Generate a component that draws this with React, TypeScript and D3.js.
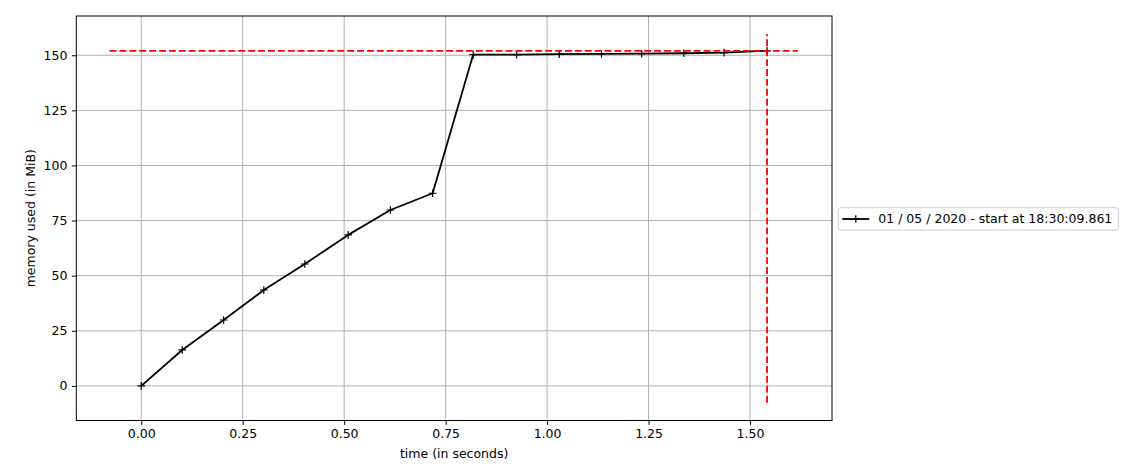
import { useEffect, useRef } from 'react';
import * as d3 from 'd3';

// memory samples (mprof-style)
const times = [0, 0.101, 0.203, 0.302, 0.403, 0.510, 0.614, 0.718, 0.818, 0.925, 1.030, 1.134, 1.233, 1.337, 1.436, 1.542];
const memory = [0, 16.3, 29.9, 43.5, 55.3, 68.5, 79.8, 87.4, 150.3, 150.3, 150.5, 150.6, 150.7, 150.9, 151.2, 152.0];
const xTicks = [0, 0.25, 0.5, 0.75, 1.0, 1.25, 1.5];
const yTicks = [0, 25, 50, 75, 100, 125, 150];
const maxMem = 152.0;
const maxTime = 1.542;
const hlineRange = [-0.078, 1.618];
const vlineRange = [-7.6, 159.5];
const legendLabel = '01 / 05 / 2020 - start at 18:30:09.861';

export default function App() {
  const svgRef = useRef<SVGSVGElement>(null);

  useEffect(() => {
    if (!svgRef.current) return;
    const svg = d3.select(svgRef.current);
    svg.selectAll('*').remove();

    const width = 1129;
    const height = 471;
    const margin = { top: 16, right: 297, bottom: 50.5, left: 76.3 };
    const w = width - margin.left - margin.right;
    const h = height - margin.top - margin.bottom;
    const font = 'DejaVu Sans, sans-serif';

    svg.append('rect').attr('width', width).attr('height', height).attr('fill', 'white');

    const x = d3.scaleLinear().domain([-0.160, 1.702]).range([0, w]);
    const y = d3.scaleLinear().domain([-15.7, 167.8]).range([h, 0]);

    const g = svg.append('g').attr('transform', `translate(${margin.left},${margin.top})`);

    // Grid
    g.append('g').selectAll('line').data(xTicks).enter().append('line')
      .attr('x1', d => x(d)).attr('x2', d => x(d))
      .attr('y1', 0).attr('y2', h)
      .attr('stroke', '#b0b0b0').attr('stroke-width', 1);
    g.append('g').selectAll('line').data(yTicks).enter().append('line')
      .attr('y1', d => y(d)).attr('y2', d => y(d))
      .attr('x1', 0).attr('x2', w)
      .attr('stroke', '#b0b0b0').attr('stroke-width', 1);

    // Line
    const pts: [number, number][] = times.map((t, i) => [t, memory[i]]);
    const line = d3.line<[number, number]>().x(d => x(d[0])).y(d => y(d[1]));
    g.append('path').datum(pts)
      .attr('d', line)
      .attr('fill', 'none').attr('stroke', 'black').attr('stroke-width', 1.8)
      .attr('stroke-linejoin', 'round');

    // '+' markers
    const ms = 3.8;
    g.append('g').selectAll('path').data(pts).enter().append('path')
      .attr('d', d => `M${x(d[0]) - ms},${y(d[1])}H${x(d[0]) + ms}M${x(d[0])},${y(d[1]) - ms}V${y(d[1]) + ms}`)
      .attr('stroke', 'black').attr('stroke-width', 1.2).attr('fill', 'none');

    // max lines
    g.append('line')
      .attr('x1', x(hlineRange[0])).attr('x2', x(hlineRange[1]))
      .attr('y1', y(maxMem)).attr('y2', y(maxMem))
      .attr('stroke', '#ff0000').attr('stroke-width', 1.8).attr('stroke-dasharray', '6.9,3');
    g.append('line')
      .attr('x1', x(maxTime)).attr('x2', x(maxTime))
      .attr('y1', y(vlineRange[0])).attr('y2', y(vlineRange[1]))
      .attr('stroke', '#ff0000').attr('stroke-width', 1.8).attr('stroke-dasharray', '6.9,3');

    // Axes
    const xAxis = g.append('g').attr('transform', `translate(0,${h})`)
      .call(d3.axisBottom(x).tickValues(xTicks).tickFormat(d3.format('.2f')).tickSize(4.4).tickPadding(4.5));
    const yAxis = g.append('g')
      .call(d3.axisLeft(y).tickValues(yTicks).tickFormat(d3.format('d')).tickSize(4.4).tickPadding(4.5));
    [xAxis, yAxis].forEach(a => {
      a.select('.domain').remove();
      a.selectAll('text').attr('font-family', font).attr('font-size', 12.5).attr('fill', 'black');
      a.selectAll('line').attr('stroke', 'black').attr('stroke-width', 1);
    });

    // Spines
    g.append('rect').attr('width', w).attr('height', h)
      .attr('fill', 'none').attr('stroke', 'black').attr('stroke-width', 1);

    // Axis labels
    svg.append('text')
      .attr('x', margin.left + w / 2).attr('y', 458)
      .attr('text-anchor', 'middle')
      .attr('font-family', font).attr('font-size', 12.5)
      .text('time (in seconds)');
    svg.append('text')
      .attr('transform', `translate(34.5,${margin.top + h / 2}) rotate(-90)`)
      .attr('text-anchor', 'middle')
      .attr('font-family', font).attr('font-size', 12.5)
      .text('memory used (in MiB)');

    // Legend
    const lg = svg.append('g').attr('transform', 'translate(838.3,207.7)');
    lg.append('rect')
      .attr('width', 280).attr('height', 22.5).attr('rx', 2.5)
      .attr('fill', 'white').attr('stroke', '#cccccc').attr('stroke-width', 1);
    lg.append('line').attr('x1', 4).attr('x2', 31).attr('y1', 11.3).attr('y2', 11.3)
      .attr('stroke', 'black').attr('stroke-width', 1.8);
    lg.append('path').attr('d', `M${17.5 - ms},11.3H${17.5 + ms}M17.5,${11.3 - ms}V${11.3 + ms}`)
      .attr('stroke', 'black').attr('stroke-width', 1.2);
    lg.append('text')
      .attr('x', 40).attr('y', 15.7)
      .attr('font-family', font).attr('font-size', 12.5)
      .text(legendLabel);
  }, []);

  return (
    <svg
      ref={svgRef}
      width={1129}
      height={471}
      style={{ position: 'fixed', top: 0, left: 0 }}
    />
  );
}
